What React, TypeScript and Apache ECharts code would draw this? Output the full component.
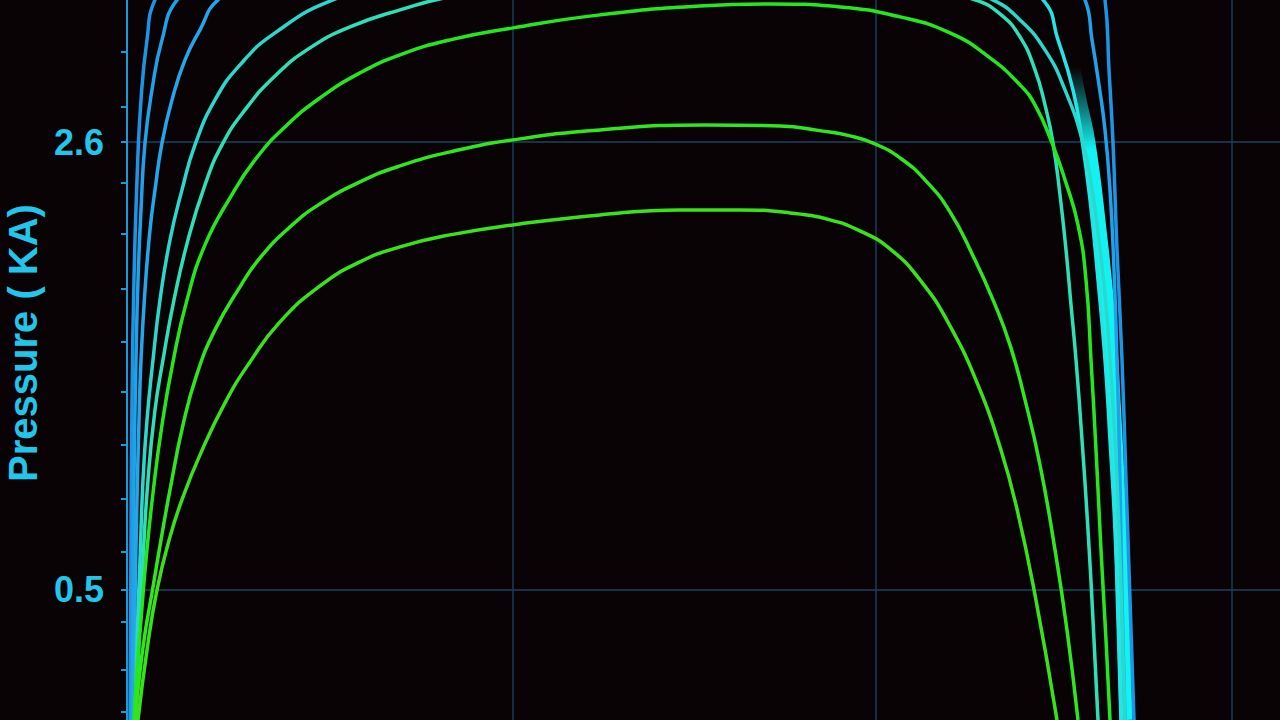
import React, { useEffect, useRef } from "react";
import * as echarts from "echarts";

// Axis ticks / labels
const yTickLabels = [0.5, 2.6];
const yMinorTicks = [3.022, 2.764, 2.6, 2.408, 2.169, 1.911, 1.663, 1.428, 1.18, 0.927, 0.678, 0.5, 0.35, 0.125, -0.072];
const xGridValues = [38.6, 74.9, 110.5];

// Curves: [time, pressure]
const blueA = [[0.3, -0.11], [0.4, 0.7345], [0.5, 1.3909], [0.7, 1.9536], [1.0, 2.4225], [1.4, 2.7976], [2.0, 3.0789], [2.8, 3.2665], [7.3, 3.6416], [37.3, 3.923], [77.3, 3.923], [94.3, 3.5478], [97.8, 3.2665], [98.2, 2.9383], [98.6, 2.596], [99.0, 2.0943], [99.5, 1.5785], [99.9, 1.0158], [100.3, 0.4531], [100.7, -0.11]];
const blueB = [[0.5, -0.11], [0.6, 0.4531], [0.7, 1.0158], [0.9, 1.5785], [1.1, 1.9536], [1.4, 2.2818], [1.8, 2.596], [2.5, 2.8445], [3.5, 3.0789], [5.0, 3.2665], [12.3, 3.6416], [37.3, 3.8292], [77.3, 3.8292], [91.3, 3.5947], [95.8, 3.2665], [96.5, 3.0789], [97.2, 2.8679], [97.8, 2.6569], [98.3, 2.3756], [98.7, 2.0005], [99.0, 1.5785], [99.3, 1.0158], [99.5, 0.4531], [99.8, -0.11]];
const blueC = [[0.6, -0.11], [0.8, 0.4531], [1.0, 0.922], [1.2, 1.2972], [1.4, 1.5785], [1.8, 1.9067], [2.3, 2.1881], [2.8, 2.3756], [3.5, 2.596], [4.5, 2.7976], [5.8, 2.9852], [7.3, 3.1258], [9.1, 3.2665], [17.3, 3.5478], [37.3, 3.6885], [67.3, 3.6885], [85.3, 3.5009], [91.6, 3.2665], [93.1, 3.0789], [94.6, 2.8445], [95.5, 2.6101], [96.3, 2.3287], [97.1, 1.9536], [97.8, 1.5785], [98.3, 1.2034], [98.8, 0.7814], [99.1, 0.3594], [99.4, -0.11]];
const bandR = [[92.3, 3.4072], [94.1, 3.0789], [95.3, 2.7976], [96.2, 2.596], [97.3, 2.1881], [98.2, 1.7661], [98.7, 1.3909], [99.2, 0.922], [99.6, 0.4063], [99.9, -0.11]];
const cyanD = [[0.8, -0.11], [1.0, 0.2656], [1.3, 0.6407], [1.6, 1.0158], [2.0, 1.2972], [2.6, 1.5785], [3.3, 1.8598], [4.3, 2.1412], [5.5, 2.3756], [6.8, 2.5866], [8.8, 2.7976], [11.3, 2.9617], [14.8, 3.1118], [20.6, 3.2665], [29.3, 3.3837], [47.3, 3.4775], [67.3, 3.4775], [80.3, 3.3837], [86.6, 3.2665], [89.3, 3.1727], [91.8, 3.0321], [93.8, 2.8445], [95.6, 2.596], [96.6, 2.3522], [97.3, 2.0943], [97.9, 1.8364], [98.3, 1.5785], [98.8, 1.2034], [99.2, 0.7814], [99.5, 0.3594], [99.8, -0.11]];
const cyanE = [[0.9, -0.11], [1.2, 0.2656], [1.6, 0.6407], [2.1, 1.0158], [2.8, 1.3441], [3.6, 1.5785], [4.7, 1.8598], [6.1, 2.1412], [7.8, 2.3991], [9.5, 2.5866], [11.8, 2.7507], [14.8, 2.9101], [18.3, 3.0414], [22.3, 3.1399], [27.3, 3.2196], [32.3, 3.2806], [42.3, 3.3509], [57.3, 3.3884], [72.3, 3.3697], [80.3, 3.3134], [84.8, 3.2665], [87.3, 3.2009], [89.3, 3.093], [90.8, 2.9383], [91.8, 2.7742], [92.6, 2.596], [93.3, 2.3522], [93.9, 2.0943], [94.4, 1.8364], [94.9, 1.5785], [95.5, 1.2034], [96.1, 0.7814], [96.6, 0.3594], [97.1, -0.11]];
const green3 = [[0.7, -0.11], [1.0, 0.1249], [1.4, 0.3594], [1.9, 0.6407], [2.6, 0.9549], [3.5, 1.2737], [4.6, 1.5691], [6.0, 1.8598], [7.8, 2.1177], [10.3, 2.3381], [12.8, 2.5163], [15.8, 2.671], [19.3, 2.807], [23.3, 2.9242], [27.3, 3.0086], [32.3, 3.0789], [38.6, 3.1352], [47.3, 3.1962], [57.3, 3.2384], [64.3, 3.2477], [71.3, 3.2337], [77.3, 3.1868], [82.3, 3.1118], [86.3, 2.9945], [89.3, 2.8679], [90.8, 2.7742], [92.5, 2.596], [93.8, 2.4225], [95.1, 2.2115], [95.9, 1.9536], [96.4, 1.5785], [96.9, 1.1565], [97.4, 0.6876], [97.9, 0.2656], [98.3, -0.11]];
const green2 = [[0.8, -0.11], [1.1, 0.0312], [1.7, 0.2656], [2.5, 0.486], [3.4, 0.7345], [4.3, 0.9689], [5.6, 1.2737], [7.0, 1.5129], [8.8, 1.7192], [11.3, 1.9208], [13.3, 2.0568], [16.3, 2.2021], [19.3, 2.31], [23.3, 2.4131], [27.3, 2.4881], [32.3, 2.5538], [38.6, 2.6101], [47.3, 2.6569], [57.9, 2.6804], [65.3, 2.6757], [69.4, 2.6523], [72.3, 2.6288], [74.8, 2.5913], [77.3, 2.5257], [79.8, 2.4225], [82.3, 2.2725], [84.7, 2.0568], [86.6, 1.8598], [88.3, 1.6488], [89.8, 1.3909], [91.3, 1.0862], [92.8, 0.6876], [94.0, 0.3125], [95.1, -0.11]];
const green1 = [[1.1, -0.11], [2.0, 0.2187], [3.0, 0.5], [4.3, 0.7486], [5.6, 0.9361], [7.3, 1.1331], [9.8, 1.3769], [12.3, 1.5691], [15.3, 1.7567], [19.3, 1.9255], [23.3, 2.038], [27.3, 2.1083], [32.3, 2.1646], [38.6, 2.2115], [47.3, 2.2584], [55.3, 2.2818], [61.3, 2.2818], [66.3, 2.2678], [70.3, 2.2349], [73.3, 2.1834], [76.3, 2.099], [79.3, 1.9536], [82.3, 1.7379], [85.3, 1.4378], [87.3, 1.1706], [88.9, 0.8986], [90.8, 0.4766], [93.0, -0.11]];

const LABEL = "#22c6ea";

export default function App() {
  const ref = useRef<HTMLDivElement>(null);
  useEffect(() => {
    const chart = echarts.init(ref.current!, null, { renderer: "svg" });
    const line = (name: string, data: number[][], color: any, width = 3.5) => ({
      name,
      type: "line",
      data,
      smooth: 0.5,
      symbol: "none",
      showSymbol: false,
      silent: true,
      clip: true,
      lineStyle: { color, width },
    });
    const blueToCyan = new echarts.graphic.LinearGradient(0, 0, 1, 0, [
      { offset: 0, color: "#24a6ea" },
      { offset: 0.86, color: "#24a6ea" },
      { offset: 0.93, color: "#22e6e6" },
      { offset: 1, color: "#22e6e6" },
    ]);
    const bandFade = new echarts.graphic.LinearGradient(0, 0, 0, 1, [
      { offset: 0, color: "rgba(18,242,242,0)" },
      { offset: 0.13, color: "rgba(18,242,242,0)" },
      { offset: 0.24, color: "rgba(18,242,242,1)" },
      { offset: 1, color: "rgba(18,242,242,1)" },
    ]);
    chart.setOption({
      animation: false,
      backgroundColor: "#0a0306",
      grid: { left: 127, right: 0, top: 0, bottom: 0, containLabel: false, outerBoundsMode: "none" },
      xAxis: {
        type: "value",
        min: 0,
        max: 115.3,
        axisLine: { show: false },
        axisTick: { show: false, customValues: xGridValues },
        axisLabel: { show: false },
        splitLine: { show: true, lineStyle: { color: "#173c5c", width: 1.5 } },
      },
      yAxis: [
        {
          type: "value",
          min: -0.11,
          max: 3.266,
          name: "Pressure ( KA)",
          nameLocation: "middle",
          nameGap: 79,
          nameTextStyle: { color: LABEL, fontSize: 40, fontWeight: "bold", fontFamily: "Liberation Sans", padding: [0, 0, 0, 34] },
          axisLine: { show: false },
          axisTick: { show: false, customValues: yTickLabels },
          axisLabel: { customValues: yTickLabels, color: LABEL, fontSize: 36, fontWeight: "bold", fontFamily: "Liberation Sans", margin: 23 },
          splitLine: { show: true, lineStyle: { color: "#1b4466", width: 1.5 } },
        },
        {
          type: "value",
          min: -0.11,
          max: 3.266,
          position: "left",
          axisLine: { show: true, lineStyle: { color: "#1a9ad8", width: 2 } },
          axisTick: { show: true, customValues: yMinorTicks, length: 6, lineStyle: { color: "#1a9ad8", width: 2 } },
          axisLabel: { show: false },
          splitLine: { show: false },
        },
      ],
      series: [
        line("Band", bandR, bandFade, 13),
        line("A", blueA, "#1c96e4"),
        line("B", blueB, "#20a2ea"),
        line("C", blueC, blueToCyan),
        line("D", cyanD, "#2ad8cc"),
        line("E", cyanE, "#2ee0b8"),
        line("G3", green3, "#24e81c"),
        line("G2", green2, "#30e61c"),
        line("G1", green1, "#3ae21a"),
      ],
    });
    return () => chart.dispose();
  }, []);
  return (
    <div
      ref={ref}
      style={{ position: "fixed", left: 0, top: 0, width: 1280, height: 720, background: "#0a0306" }}
    />
  );
}
